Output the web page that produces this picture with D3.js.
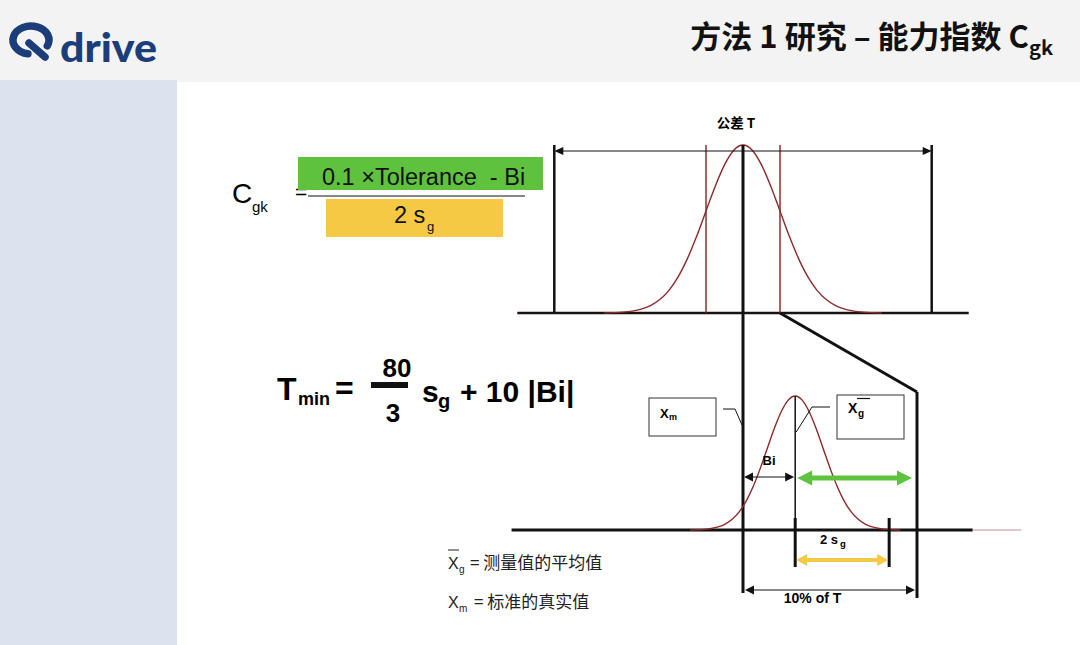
<!DOCTYPE html>
<html>
<head>
<meta charset="utf-8">
<script src="https://cdn.jsdelivr.net/npm/d3@7"></script>
<style>
  body { margin: 0; background: #fff; }
  svg { display: block; }
  text { font-family: "Liberation Sans", Arial, sans-serif; }
</style>
</head>
<body>
<div id="chart"></div>
<script>
// ---- data ----
// top view, in units of the process sigma (mean at 0)
var tolLimits = [-5.1, 5.1];
var sigmaLines = [-1, 1];
var topAxisExtent = [-6.1, 6.1];

// bell shape: position (sigma) and relative height
var bellZ = [-3.75, -3.5, -3.25, -3, -2.75, -2.5, -2.25, -2, -1.75, -1.5, -1.25, -1, -0.75, -0.5, -0.25, 0,
             0.25, 0.5, 0.75, 1, 1.25, 1.5, 1.75, 2, 2.25, 2.5, 2.75, 3, 3.25, 3.5, 3.75];
var bellH = [0, 0.002, 0.005, 0.011, 0.023, 0.044, 0.08, 0.135, 0.216, 0.325, 0.458, 0.607, 0.755, 0.882, 0.969, 1,
             0.969, 0.882, 0.755, 0.607, 0.458, 0.325, 0.216, 0.135, 0.08, 0.044, 0.023, 0.011, 0.005, 0.002, 0];

// zoomed view, in units of 10% of T (reference value Xm at 0)
var xmValue = 0;
var xgValue = 0.3;
var twoSgEnd = 0.84;
var tenPctEnd = 1;
var zoomSigma = 0.161;
var bottomAxisExtent = [-1.33, 1.32];
var bottomAxisTail = 1.6;

// texts
var titleMain = "方法 1 研究 – 能力指数 C";
var titleSub = "gk";
var logoWord = "drive";
var tolLabel = "公差 T";
var numerText = "0.1 ×Tolerance  - Bi";
var legendXg = "= 测量值的平均值";
var legendXm = "= 标准的真实值";

var W = 1080, H = 645;
var blue = "#1b3d7a", curveRed = "#8b2a2a", green = "#5fc23e", yellow = "#f6c944";

var svg = d3.select("#chart").append("svg")
    .attr("width", W)
    .attr("height", H);

// background panels
svg.append("rect").attr("x", 0).attr("y", 0).attr("width", W).attr("height", 82).attr("fill", "#f3f3f3");
svg.append("rect").attr("x", 0).attr("y", 80).attr("width", 177).attr("height", H - 80).attr("fill", "#dce3ef");

// logo: open ring + tail, then the word
svg.append("path")
    .attr("d", "M47.3,45.9 A18,14 0 1 0 27.9,53.8")
    .attr("fill", "none").attr("stroke", blue).attr("stroke-width", 7.5).attr("stroke-linecap", "round");
svg.append("line")
    .attr("x1", 29).attr("y1", 43).attr("x2", 45).attr("y2", 57)
    .attr("stroke", blue).attr("stroke-width", 7.5).attr("stroke-linecap", "round");
svg.append("text")
    .attr("x", 60).attr("y", 62)
    .style("font-family", "Lato, 'Open Sans', sans-serif")
    .attr("font-weight", 900).attr("font-size", 40)
    .attr("textLength", 97).attr("lengthAdjust", "spacingAndGlyphs")
    .attr("fill", blue)
    .text(logoWord);

// title
var title = svg.append("text")
    .attr("x", 1053).attr("y", 48)
    .attr("text-anchor", "end")
    .style("font-family", "'Noto Sans CJK SC', sans-serif")
    .attr("font-weight", 700).attr("font-size", 31)
    .attr("fill", "#111");
title.append("tspan").text(titleMain);
title.append("tspan").attr("font-size", 20).attr("dy", 7).text(titleSub);

// ---- scales ----
var xTop = d3.scaleLinear().domain([-1, 1]).range([706, 780]);
var yTop = d3.scaleLinear().domain([0, 1]).range([313, 145]);
var xBot = d3.scaleLinear().domain([0, 1]).range([743, 917]);
var yBot = d3.scaleLinear().domain([0, 1]).range([530, 396]);

var bell = d3.zip(bellZ, bellH);

function arrow(x1, x2, y, width, headLen, headHalf, color) {
  svg.append("line")
      .attr("x1", x1 + headLen - 1).attr("x2", x2 - headLen + 1)
      .attr("y1", y).attr("y2", y)
      .attr("stroke", color).attr("stroke-width", width);
  svg.append("path")
      .attr("d", "M" + x1 + "," + y + "L" + (x1 + headLen) + "," + (y - headHalf) + "L" + (x1 + headLen) + "," + (y + headHalf) + "Z")
      .attr("fill", color);
  svg.append("path")
      .attr("d", "M" + x2 + "," + y + "L" + (x2 - headLen) + "," + (y - headHalf) + "L" + (x2 - headLen) + "," + (y + headHalf) + "Z")
      .attr("fill", color);
}

function vline(x, y1, y2, width, color) {
  svg.append("line")
      .attr("x1", x).attr("x2", x).attr("y1", y1).attr("y2", y2)
      .attr("stroke", color).attr("stroke-width", width);
}

// ---- top view ----
svg.append("line")
    .attr("x1", xTop(topAxisExtent[0])).attr("x2", xTop(topAxisExtent[1]))
    .attr("y1", yTop(0)).attr("y2", yTop(0))
    .attr("stroke", "#1a1111").attr("stroke-width", 2.5);

tolLimits.forEach(function(v) { vline(xTop(v), yTop(1), yTop(0), 2.5, "#111"); });
sigmaLines.forEach(function(v) { vline(xTop(v), yTop(1), yTop(0), 1.4, "#8b1e1e"); });

svg.append("path")
    .datum(bell)
    .attr("d", d3.line().x(function(d) { return xTop(d[0]); }).y(function(d) { return yTop(d[1]); }).curve(d3.curveMonotoneX))
    .attr("fill", "none").attr("stroke", curveRed).attr("stroke-width", 1.4);

arrow(xTop(tolLimits[0]), xTop(tolLimits[1]), 151, 1, 9, 4, "#111");

svg.append("text")
    .attr("x", xTop(0) - 7).attr("y", 128)
    .attr("text-anchor", "middle")
    .style("font-family", "'Noto Sans CJK SC', 'Liberation Sans', sans-serif")
    .attr("font-weight", 700).attr("font-size", 13.5)
    .text(tolLabel);

// zoom connector
svg.append("line")
    .attr("x1", xTop(sigmaLines[1])).attr("y1", yTop(0))
    .attr("x2", xBot(tenPctEnd)).attr("y2", 392)
    .attr("stroke", "#111").attr("stroke-width", 3);

// centre line (Xm), shared by both views
vline(xTop(0), yTop(1), 593, 3, "#111");

// ---- zoomed view ----
svg.append("line")
    .attr("x1", xBot(bottomAxisExtent[0])).attr("x2", xBot(bottomAxisExtent[1]))
    .attr("y1", yBot(0)).attr("y2", yBot(0))
    .attr("stroke", "#111").attr("stroke-width", 3);
svg.append("line")
    .attr("x1", xBot(bottomAxisExtent[1])).attr("x2", xBot(bottomAxisTail))
    .attr("y1", yBot(0)).attr("y2", yBot(0))
    .attr("stroke", "#c89090").attr("stroke-width", 1);

svg.append("path")
    .datum(bell)
    .attr("d", d3.line()
        .x(function(d) { return xBot(xgValue + d[0] * zoomSigma); })
        .y(function(d) { return yBot(d[1]); })
        .curve(d3.curveMonotoneX))
    .attr("fill", "none").attr("stroke", curveRed).attr("stroke-width", 1.4);

vline(xBot(tenPctEnd), 392, 598, 3, "#111");
vline(xBot(xgValue), yBot(1), 518, 1.5, "#111");
vline(xBot(xgValue), 518, 567, 3, "#111");
vline(xBot(twoSgEnd), 518, 567, 3, "#111");

// label boxes
svg.append("rect").attr("x", 649).attr("y", 398).attr("width", 67).attr("height", 38)
    .attr("fill", "#fff").attr("stroke", "#333").attr("stroke-width", 1);
svg.append("rect").attr("x", 837).attr("y", 395).attr("width", 67).attr("height", 44)
    .attr("fill", "#fff").attr("stroke", "#333").attr("stroke-width", 1);

svg.append("path")
    .attr("d", "M723,409L735,409L" + (xBot(xmValue) - 1) + ",425")
    .attr("fill", "none").attr("stroke", "#111").attr("stroke-width", 1);
svg.append("path")
    .attr("d", "M830,407L812,407L" + (xBot(xgValue) + 1) + ",432")
    .attr("fill", "none").attr("stroke", "#111").attr("stroke-width", 1);

svg.append("text").attr("x", 660).attr("y", 418).attr("font-weight", 700).attr("font-size", 13).text("X");
svg.append("text").attr("x", 669).attr("y", 420).attr("font-weight", 700).attr("font-size", 9).text("m");
svg.append("text").attr("x", 848).attr("y", 413).attr("font-weight", 700).attr("font-size", 14).text("X");
svg.append("text").attr("x", 858).attr("y", 417).attr("font-weight", 700).attr("font-size", 10).text("g");
svg.append("line").attr("x1", 857).attr("x2", 870).attr("y1", 398.5).attr("y2", 398.5)
    .attr("stroke", "#111").attr("stroke-width", 1.2);

// Bi
arrow(xBot(xmValue) + 1, xBot(xgValue) - 1, 477, 1, 9, 4.5, "#111");
svg.append("text").attr("x", xBot(xmValue / 2 + xgValue / 2) + 0).attr("y", 465)
    .attr("text-anchor", "middle").attr("font-weight", 700).attr("font-size", 13).text("Bi");

// green / yellow spans
arrow(xBot(xgValue) + 2, xBot(tenPctEnd) - 5, 478, 5, 15, 7.5, green);
arrow(xBot(xgValue) + 1, xBot(twoSgEnd) - 1, 560, 4, 11, 6, yellow);

svg.append("text").attr("x", 820).attr("y", 544).attr("font-weight", 700).attr("font-size", 13).text("2 s");
svg.append("text").attr("x", 840).attr("y", 547).attr("font-weight", 700).attr("font-size", 9.5).text("g");

arrow(xBot(xmValue) + 2, xBot(tenPctEnd) - 2, 590, 1, 9, 4.5, "#111");
svg.append("text").attr("x", xBot(0.4)).attr("y", 603)
    .attr("text-anchor", "middle").attr("font-weight", 700).attr("font-size", 14).text("10% of T");

// ---- Cgk formula ----
svg.append("text").attr("x", 232).attr("y", 203).attr("font-size", 28).text("C");
svg.append("text").attr("x", 252).attr("y", 212).attr("font-size", 15).text("gk");
svg.append("text").attr("x", 295).attr("y", 199).attr("font-size", 21).text("=");

svg.append("rect").attr("x", 298).attr("y", 157).attr("width", 245).attr("height", 33).attr("fill", green);
svg.append("text").attr("x", 322).attr("y", 185).attr("font-size", 23.5)
    .style("white-space", "pre").attr("fill", "#111").text(numerText);
svg.append("line").attr("x1", 308).attr("x2", 525).attr("y1", 196).attr("y2", 196)
    .attr("stroke", "#111").attr("stroke-width", 1);
svg.append("rect").attr("x", 326).attr("y", 199).attr("width", 177).attr("height", 38).attr("fill", yellow);
svg.append("text").attr("x", 394).attr("y", 223).attr("font-size", 23.5).attr("fill", "#111").text("2 s");
svg.append("text").attr("x", 427).attr("y", 231).attr("font-size", 13).attr("fill", "#111").text("g");

// ---- Tmin formula ----
svg.append("text").attr("x", 277).attr("y", 400).attr("font-weight", 700).attr("font-size", 32).text("T");
svg.append("text").attr("x", 298).attr("y", 405).attr("font-weight", 700).attr("font-size", 18).text("min");
svg.append("text").attr("x", 335).attr("y", 399).attr("font-weight", 700).attr("font-size", 32).text("=");
svg.append("text").attr("x", 397).attr("y", 377).attr("text-anchor", "middle").attr("font-weight", 700).attr("font-size", 26).text("80");
svg.append("rect").attr("x", 371).attr("y", 382).attr("width", 37).attr("height", 6).attr("fill", "#111");
svg.append("text").attr("x", 393).attr("y", 422).attr("text-anchor", "middle").attr("font-weight", 700).attr("font-size", 26).text("3");
svg.append("text").attr("x", 422).attr("y", 402).attr("font-weight", 700).attr("font-size", 30).text("s");
svg.append("text").attr("x", 438).attr("y", 408).attr("font-weight", 700).attr("font-size", 20).text("g");
svg.append("text").attr("x", 460).attr("y", 402).attr("font-weight", 700).attr("font-size", 30)
    .style("white-space", "pre").text("+ 10 |Bi|");

// ---- legend ----
svg.append("line").attr("x1", 448).attr("x2", 459).attr("y1", 550).attr("y2", 550)
    .attr("stroke", "#222").attr("stroke-width", 1);
svg.append("text").attr("x", 448).attr("y", 569).attr("font-size", 16).attr("fill", "#222").text("X");
svg.append("text").attr("x", 459).attr("y", 573).attr("font-size", 10).attr("fill", "#222").text("g");
svg.append("text").attr("x", 470).attr("y", 569).attr("font-size", 17).attr("fill", "#222")
    .style("font-family", "'Noto Sans CJK SC', sans-serif").text(legendXg);

svg.append("text").attr("x", 448).attr("y", 608).attr("font-size", 16).attr("fill", "#222").text("X");
svg.append("text").attr("x", 459).attr("y", 612).attr("font-size", 10).attr("fill", "#222").text("m");
svg.append("text").attr("x", 474).attr("y", 608).attr("font-size", 17).attr("fill", "#222")
    .style("font-family", "'Noto Sans CJK SC', sans-serif").text(legendXm);
</script>
</body>
</html>
